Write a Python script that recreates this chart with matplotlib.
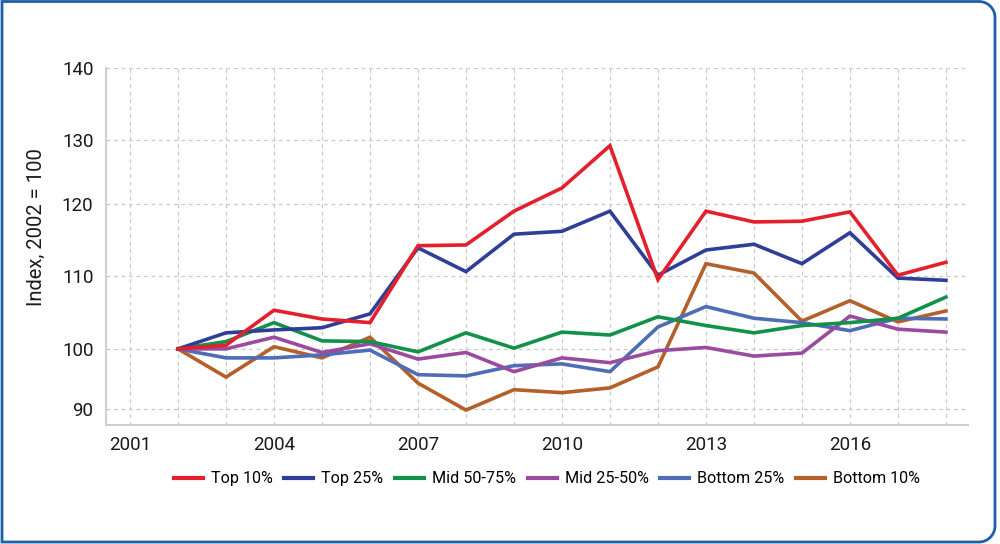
import numpy as np
import matplotlib
matplotlib.use('Agg')
import matplotlib.pyplot as plt
from matplotlib.path import Path
from matplotlib.patches import PathPatch
from matplotlib.ticker import FixedLocator

plt.rcParams['font.family'] = ['Roboto', 'DejaVu Sans']

years = list(range(2002, 2019))

top10 = [100, 100.5, 105.3, 104.1, 103.6, 114.2, 114.3, 119.0, 122.5, 129.1,
         109.5, 119.0, 117.5, 117.6, 118.9, 110.1, 111.9]
top25 = [100, 102.2, 102.6, 102.9, 104.8, 113.9, 110.6, 115.8, 116.2, 119.0,
         110.1, 113.6, 114.4, 111.7, 116.0, 109.7, 109.4]
mid5075 = [100, 101.0, 103.6, 101.1, 101.0, 99.5, 102.2, 100.1, 102.3, 101.9,
           104.4, 103.2, 102.2, 103.2, 103.6, 104.2, 107.1]
mid2550 = [100, 100.0, 101.6, 99.4, 100.7, 98.3, 99.4, 96.2, 98.5, 97.7,
           99.7, 100.2, 98.8, 99.3, 104.5, 102.7, 102.3]
bottom25 = [100, 98.5, 98.5, 99.0, 99.8, 95.7, 95.5, 97.2, 97.5, 96.2,
            103.0, 105.8, 104.2, 103.6, 102.5, 104.2, 104.1]
bottom10 = [100, 95.3, 100.3, 98.5, 101.6, 94.3, 89.8, 93.2, 92.7, 93.5,
            97.0, 111.7, 110.4, 103.8, 106.6, 103.7, 105.2]

series = [top10, top25, mid5075, mid2550, bottom25, bottom10]
labels = ['Top 10%', 'Top 25%', 'Mid 50-75%', 'Mid 25-50%', 'Bottom 25%', 'Bottom 10%']
colors = ['#e3202b', '#2f3f98', '#12914a', '#9a4b9f', '#4f6cb7', '#b3602a']

yticks = [90, 100, 110, 120, 130, 140]
xlabels = [2001, 2004, 2007, 2010, 2013, 2016]

# the source chart spaces its y gridlines unevenly -> piecewise linear scale
sc_vals = np.array([87.33, 90, 100, 110, 120, 130, 140])
sc_pos = np.array([0, 16, 76, 149, 221, 285, 357], dtype=float)

def _pw(x, xs, ys):
    x = np.asarray(x, dtype=float)
    y = np.interp(x, xs, ys)
    lo = x < xs[0]
    hi = x > xs[-1]
    y = np.where(lo, ys[0] + (x - xs[0]) * (ys[1] - ys[0]) / (xs[1] - xs[0]), y)
    y = np.where(hi, ys[-1] + (x - xs[-1]) * (ys[-1] - ys[-2]) / (xs[-1] - xs[-2]), y)
    return y

def fwd(v):
    return _pw(v, sc_vals, sc_pos)

def inv(p):
    return _pw(p, sc_pos, sc_vals)

fig = plt.figure(figsize=(10, 5.44), dpi=100)
ax = fig.add_axes([0.106, 0.219, 0.862, 0.656])
ax.set_yscale('function', functions=(fwd, inv))

handles = []
for s, lab, c in zip(series, labels, colors):
    h, = ax.plot(years, s, color=c, lw=2.6, label=lab, solid_joinstyle='miter')
    handles.append(h)
# top series drawn last so it sits on top
for i, h in enumerate(handles):
    h.set_zorder(10 - i)

ax.set_xlim(2000.5, 2018.46)
ax.set_ylim(87.33, 140)
ax.xaxis.set_major_locator(FixedLocator(xlabels))
ax.xaxis.set_minor_locator(FixedLocator(list(range(2001, 2019))))
ax.yaxis.set_major_locator(FixedLocator(yticks))
ax.yaxis.set_minor_locator(FixedLocator([]))

ax.grid(True, which='both', axis='x', color='#c8c8c8', lw=0.9, ls=(0, (3, 3)))
ax.grid(True, which='major', axis='y', color='#c8c8c8', lw=0.9, ls=(0, (3, 3)))
ax.set_axisbelow(True)

for side in ['top', 'right']:
    ax.spines[side].set_visible(False)
for side in ['left', 'bottom']:
    ax.spines[side].set_color('#cfcfcf')
    ax.spines[side].set_linewidth(1.5)

ax.tick_params(which='both', length=0)
ax.tick_params(axis='y', labelsize=13.5, pad=9, colors='#1a1a1a')
ax.tick_params(axis='x', labelsize=13.5, pad=8, colors='#1a1a1a')

ax.set_ylabel('Index, 2002 = 100', fontsize=14.5, color='#1a1a1a')
ax.yaxis.set_label_coords(-0.0696, 0.555)

leg = fig.legend(handles=handles, labels=labels, loc='center', bbox_to_anchor=(0.547, 0.1195),
                 ncol=6, frameon=False, fontsize=11.6, handlelength=1.8, handletextpad=0.5,
                 columnspacing=0.72)
for lh in leg.legend_handles:
    lh.set_linewidth(3)

# frame: square on the left, rounded on the right
W, H = 1000.0, 544.0
x0, x1, yt, yb, r = 2.0, 995.0, 1.5, 542.0, 16.0
k = 0.5523 * r
pts = [(x0, yt), (x1 - r, yt),
       (x1 - r + k, yt), (x1, yt + r - k), (x1, yt + r),
       (x1, yb - r),
       (x1, yb - r + k), (x1 - r + k, yb), (x1 - r, yb),
       (x0, yb), (x0, yt)]
codes = [Path.MOVETO, Path.LINETO,
         Path.CURVE4, Path.CURVE4, Path.CURVE4,
         Path.LINETO,
         Path.CURVE4, Path.CURVE4, Path.CURVE4,
         Path.LINETO, Path.CLOSEPOLY]
pts = [(x / W, 1 - y / H) for x, y in pts]
fig.add_artist(PathPatch(Path(pts, codes), transform=fig.transFigure, fill=False,
                         edgecolor='#1f5fa8', lw=2))

plt.savefig('out.png', dpi=100)
